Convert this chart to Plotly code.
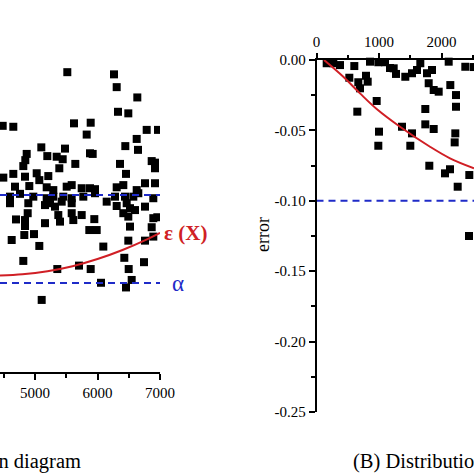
import plotly.graph_objects as go

# ---------------- Panel A (left, partially visible) ----------------
a_x = [5517, 6264, 6307, 6637, 6328, 6493, 4483, 4653, 5624, 5891, 5827, 6787, 6968, 6627,
       6445, 6648, 5101, 5480, 4867, 5197, 5880, 5923, 5347, 5443, 4845, 6867, 6920, 5645,
       6360, 4813, 5389, 6920, 4493, 4653, 5027, 5213, 4840, 6456, 6920, 6760, 6627, 4680,
       4909, 5069, 5187, 5293, 5507, 5587, 5747, 5960, 5880, 6307, 6413, 4600, 4760, 4973,
       5187, 5293, 5453, 5587, 5773, 5960, 6147, 6280, 6440, 6573, 6653, 6893, 4600, 4893,
       5240, 5427, 5587, 5160, 5320, 6307, 6467, 6760, 4883, 4696, 4840, 5373, 5587, 5747,
       5613, 5400, 5949, 6413, 6520, 6493, 6893, 6600, 5160, 4840, 5869, 5987, 6520, 6867,
       6957, 4627, 4829, 4984, 5069, 6093, 6493, 6760, 6893, 4813, 5357, 5704, 5891, 6429,
       6499, 6744, 6056, 6547, 6456, 5107]
a_y = [96.1, 95.4, 91.3, 88.0, 83.4, 82.9, 78.9, 78.6, 79.7, 79.9, 76.1, 77.6, 77.6, 74.7,
       72.4, 71.2, 72.0, 71.6, 69.9, 69.2, 70.1, 69.9, 69.0, 68.2, 67.9, 67.6, 67.1, 66.7,
       66.7, 66.0, 65.3, 65.3, 62.3, 63.5, 63.7, 62.8, 62.6, 63.5, 60.5, 60.5, 58.3, 59.4,
       59.6, 61.5, 59.2, 58.3, 59.4, 59.9, 58.9, 58.6, 58.9, 59.2, 59.9, 56.2, 57.1, 56.2,
       55.7, 56.2, 56.2, 55.7, 56.2, 57.3, 54.6, 56.2, 56.2, 56.2, 57.3, 55.7, 54.1, 54.1,
       54.1, 54.6, 54.1, 53.5, 53.0, 53.2, 54.1, 53.0, 50.9, 48.9, 48.7, 50.3, 50.9, 50.3,
       48.7, 48.2, 49.0, 50.9, 52.5, 49.8, 49.3, 51.9, 47.7, 46.8, 45.5, 45.5, 46.6, 46.4,
       49.6, 42.3, 43.9, 44.2, 40.4, 40.2, 42.1, 42.1, 43.4, 35.6, 33.0, 34.1, 33.0, 36.6,
       33.0, 35.2, 28.6, 29.5, 27.1, 23.1]
a_curve_x = [4440, 4800, 5200, 5600, 6000, 6400, 6800, 7000]
a_curve_y = [30.9, 31.3, 32.3, 33.9, 36.2, 39.1, 42.6, 44.6]
a_mean = 56.7
a_alpha = 28.5
a_xticks = [4000, 5000, 6000, 7000]
a_xticklabels = ["4000", "5000", "6000", "7000"]
a_xminor = [4500, 5500, 6500]

# ---------------- Panel B (right, partially visible) ----------------
b_x = [163, 269, 376, 605, 525, 669, 792, 819, 696, 963, 653, 1000, 989, 856, 989, 1096,
       1176, 1235, 1272, 1421, 1528, 1608, 1661, 1768, 1848, 1795, 1875, 1955, 2141, 2232,
       2232, 1741, 1741, 1875, 1368, 1528, 1501, 2221, 2211, 2115, 2381, 1805, 2056, 2136,
       2259, 2445, 2440, 2515]
b_y = [-0.0023, -0.0023, -0.0036, -0.0043, -0.0126, -0.0158, -0.0112, -0.0154, -0.0201,
       -0.0291, -0.0367, -0.0509, -0.0609, -0.0012, -0.0016, -0.0016, -0.0057, -0.0059,
       -0.0099, -0.0119, -0.0094, -0.0071, -0.0023, -0.0094, -0.0071, -0.0165, -0.0213,
       -0.0225, -0.0178, -0.0249, -0.0332, -0.0348, -0.0457, -0.0490, -0.0474, -0.0521,
       -0.0609, -0.0521, -0.0585, -0.0012, -0.0048, -0.0751, -0.0805, -0.0776, -0.0900,
       -0.0817, -0.1250, -0.0050]
b_curve_x = [120, 429, 696, 963, 1336, 1816, 2136, 2520]
b_curve_y = [0.0, -0.0119, -0.0237, -0.0348, -0.0474, -0.0616, -0.0698, -0.0769]
b_alpha = -0.10
b_yticks = [0.0, -0.05, -0.10, -0.15, -0.20, -0.25]
b_yticklabels = ["0.00", "-0.05", "-0.10", "-0.15", "-0.20", "-0.25"]
b_yminor = [-0.025, -0.075, -0.125, -0.175, -0.225]
b_xticks = [0, 1000, 2000]
b_xticklabels = ["0", "1000", "2000"]
b_xminor = [500, 1500, 2500]

W = H = 474
RED = "#d01f25"
BLUE = "#1f2bc8"
SERIF = "Liberation Serif, Times New Roman, serif"


def px(v):
    return v / W


fig = go.Figure()

# Panel A traces
fig.add_trace(go.Scatter(x=a_x, y=a_y, mode="markers", xaxis="x", yaxis="y",
                         marker=dict(symbol="square", size=8, color="black",
                                     line=dict(width=0)), showlegend=False))
fig.add_trace(go.Scatter(x=[a_curve_x[0], a_curve_x[-1]], y=[a_mean, a_mean], mode="lines",
                         xaxis="x", yaxis="y", line=dict(color=BLUE, width=2, dash="7px,5px"),
                         showlegend=False))
fig.add_trace(go.Scatter(x=[a_curve_x[0], a_curve_x[-1]], y=[a_alpha, a_alpha], mode="lines",
                         xaxis="x", yaxis="y", line=dict(color=BLUE, width=2, dash="7px,5px"),
                         showlegend=False))
fig.add_trace(go.Scatter(x=a_curve_x, y=a_curve_y, mode="lines", xaxis="x", yaxis="y",
                         line=dict(color=RED, width=2, shape="spline"), showlegend=False))

# Panel B traces
fig.add_trace(go.Scatter(x=b_x, y=b_y, mode="markers", xaxis="x2", yaxis="y2",
                         cliponaxis=False,
                         marker=dict(symbol="square", size=8, color="black",
                                     line=dict(width=0)), showlegend=False))
fig.add_trace(go.Scatter(x=[0, 2520], y=[b_alpha, b_alpha], mode="lines", xaxis="x2",
                         yaxis="y2", line=dict(color=BLUE, width=2, dash="7px,5px"),
                         showlegend=False))
fig.add_trace(go.Scatter(x=b_curve_x, y=b_curve_y, mode="lines", xaxis="x2", yaxis="y2",
                         line=dict(color=RED, width=2, shape="spline"), showlegend=False))

tickfont = dict(family=SERIF, size=15, color="black")

fig.update_layout(
    template="none",
    width=W, height=H, margin=dict(l=0, r=0, t=0, b=0, pad=0, autoexpand=False),
    paper_bgcolor="white", plot_bgcolor="white",
    xaxis=dict(domain=[0, px(160)], range=[4440, 7000], anchor="y", automargin=False,
               showline=True, linecolor="black", linewidth=1.5,
               ticks="outside", ticklen=6, tickwidth=1.5, tickcolor="black",
               tickvals=a_xticks, ticktext=a_xticklabels, tickfont=tickfont,
               minor=dict(ticks="outside", ticklen=4, tickwidth=1.5, tickcolor="black",
                          tickvals=a_xminor, showgrid=False),
               showgrid=False, zeroline=False),
    yaxis=dict(domain=[1 - px(372), 1 - px(60)], range=[0, 100], anchor="x",
               automargin=False, visible=False, showgrid=False, zeroline=False),
    xaxis2=dict(domain=[px(316.5), 1], range=[0, 2520], anchor="y2", side="top",
                automargin=False,
                showline=True, linecolor="black", linewidth=1.5,
                ticks="outside", ticklen=5, tickwidth=1.5, tickcolor="black",
                tickvals=b_xticks, ticktext=b_xticklabels, tickfont=tickfont,
                minor=dict(ticks="outside", ticklen=3, tickwidth=1.5, tickcolor="black",
                           tickvals=b_xminor, showgrid=False),
                showgrid=False, zeroline=False),
    yaxis2=dict(domain=[1 - px(412), 1 - px(60)], range=[-0.25, 0], anchor="x2",
                automargin=False,
                showline=True, linecolor="black", linewidth=1.5,
                ticks="outside", ticklen=6, tickwidth=1.5, tickcolor="black",
                tickvals=b_yticks, ticktext=b_yticklabels, tickfont=tickfont,
                minor=dict(ticks="outside", ticklen=4, tickwidth=1.5, tickcolor="black",
                           tickvals=b_yminor, showgrid=False),
                showgrid=False, zeroline=False),
    annotations=[
        dict(text="error", x=px(263), y=1 - px(235), xref="paper", yref="paper",
             textangle=-90, showarrow=False, xanchor="center", yanchor="middle",
             font=dict(family=SERIF, size=18, color="black")),
        dict(text="<b>ε (X)</b>", x=px(162), y=1 - px(233), xref="paper", yref="paper",
             showarrow=False, xanchor="left", yanchor="middle",
             font=dict(family=SERIF, size=21, color=RED)),
        dict(text="α", x=px(170), y=1 - px(283), xref="paper", yref="paper",
             showarrow=False, xanchor="left", yanchor="middle",
             font=dict(family=SERIF, size=23, color=BLUE)),
        dict(text="(A) Distribution diagram", x=px(83), y=1 - px(461), xref="paper",
             yref="paper", showarrow=False, xanchor="right", yanchor="middle",
             font=dict(family=SERIF, size=20.5, color="black")),
        dict(text="(B) Distribution of error", x=px(351), y=1 - px(461), xref="paper",
             yref="paper", showarrow=False, xanchor="left", yanchor="middle",
             font=dict(family=SERIF, size=20.5, color="black")),
    ],
)

fig.write_html("out.html")
